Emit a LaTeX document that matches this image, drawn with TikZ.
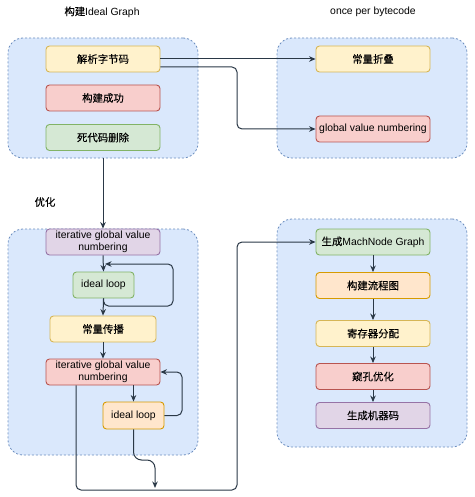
\documentclass[tikz,border=0pt]{standalone}
\usepackage{fontspec}
\setmainfont{Liberation Sans}
\newfontfamily\cjk[FakeBold=0.12]{Noto Sans CJK SC}
\usetikzlibrary{arrows.meta}
\definecolor{cfill}{HTML}{DAE8FC}\definecolor{cdraw}{HTML}{6C8EBF}
\definecolor{yfill}{HTML}{FFF2CC}\definecolor{ydraw}{HTML}{D6B656}
\definecolor{rfill}{HTML}{F8CECC}\definecolor{rdraw}{HTML}{B85450}
\definecolor{gfill}{HTML}{D5E8D4}\definecolor{gdraw}{HTML}{82B366}
\definecolor{pfill}{HTML}{E1D5E7}\definecolor{pdraw}{HTML}{9673A6}
\definecolor{ofill}{HTML}{FFE6CC}\definecolor{odraw}{HTML}{D79B00}
\definecolor{lin}{HTML}{2A3846}
\begin{document}
\begin{tikzpicture}[x=1pt,y=-1pt,
  font=\fontsize{10.4}{12}\selectfont,
  cont/.style={draw=cdraw,fill=cfill,dash pattern=on 2pt off 2pt,rounded corners=15pt,line width=0.8pt,inner sep=0pt},
  box/.style={rounded corners=3.5pt,line width=0.9pt,minimum width=114pt,minimum height=26pt,inner sep=1pt,align=center},
  ybox/.style={box,draw=ydraw,fill=yfill},
  rbox/.style={box,draw=rdraw,fill=rfill},
  gbox/.style={box,draw=gdraw,fill=gfill},
  pbox/.style={box,draw=pdraw,fill=pfill},
  obox/.style={box,draw=odraw,fill=ofill},
  arr/.style={draw=lin,line width=1pt,-{Stealth[length=6.5pt,width=5.5pt]},rounded corners=5pt},
  lbl/.style={inner sep=0pt}]
\useasboundingbox (0,0) rectangle (474,497);
% containers
\node[cont,minimum width=190pt,minimum height=120pt] (c1) at (103,98) {};
\node[cont,minimum width=190pt,minimum height=120pt] (c2) at (372,98) {};
\node[cont,minimum width=190pt,minimum height=226pt] (c3) at (103,342) {};
\node[cont,minimum width=190pt,minimum height=228pt] (c4) at (372,333) {};
% titles
\node[lbl] (t1) at (102,12) {{\cjk 构建}Ideal Graph};
\node[lbl] (t2) at (373,12) {once per bytecode};
\node[lbl] (t3) at (45,202) {\cjk 优化};
% top-left
\node[ybox] (n1) at (103,59) {\cjk 解析字节码};
\node[rbox] (n2) at (103,98) {\cjk 构建成功};
\node[gbox] (n3) at (103,137.5) {\cjk 死代码删除};
% top-right
\node[ybox] (r1) at (373,59) {\cjk 常量折叠};
\node[rbox] (r2) at (373,129) {global value numbering};
% bottom-left
\node[pbox] (m1) at (103,242) {iterative global value\\numbering};
\node[gbox,minimum width=61pt] (m2) at (103.5,285) {ideal loop};
\node[ybox,minimum width=106pt] (m3) at (103,329) {\cjk 常量传播};
\node[rbox] (m4) at (103,372) {iterative global value\\numbering};
\node[obox,minimum width=61pt,minimum height=27pt] (m5) at (133.5,415.5) {ideal loop};
% bottom-right
\node[gbox] (b1) at (373,242) {{\cjk 生成}MachNode Graph};
\node[obox] (b2) at (373,285.5) {\cjk 构建流程图};
\node[ybox] (b3) at (373,333.5) {\cjk 寄存器分配};
\node[rbox] (b4) at (373,376.5) {\cjk 窥孔优化};
\node[pbox] (b5) at (373,415.5) {\cjk 生成机器码};
% coordinates
\coordinate (k1) at (237,100);
\coordinate (L1) at (173,306);
\coordinate (L2) at (105,264);
\coordinate (L3) at (182,395);
\coordinate (J1) at (155,460);
\coordinate (L4) at (155,488);
\coordinate (s4) at ([xshift=-27pt]m4.south);
\coordinate (J2) at (237,490);
% connectors
\draw[arr] (n1.east) -- (r1.west);
\draw[arr] ([yshift=-8pt]n1.east) -| (k1) |- (r2.west);
\draw[arr] (c1.south) -- (m1.north);
\draw[arr] (m1.south) -- (m2.north);
\draw[arr] (m2.south) -- (m3.north);
\draw[arr] (m2.south) |- (L1) |- (L2);
\draw[arr] (m3.south) -- (m4.north);
\draw[arr] (m4.south -| m5.north) -- (m5.north);
\draw[arr] (m5.east) -| (L3) |- (m4.east);
\draw[arr,rounded corners=8pt] (m5.south) |- (J1) -- (L4);
\draw[arr] (s4) |- (J2) |- (b1.west);
\draw[arr] (b1.south) -- (b2.north);
\draw[arr] (b2.south) -- (b3.north);
\draw[arr] (b3.south) -- (b4.north);
\draw[arr] (b4.south) -- (b5.north);
\end{tikzpicture}
\end{document}
